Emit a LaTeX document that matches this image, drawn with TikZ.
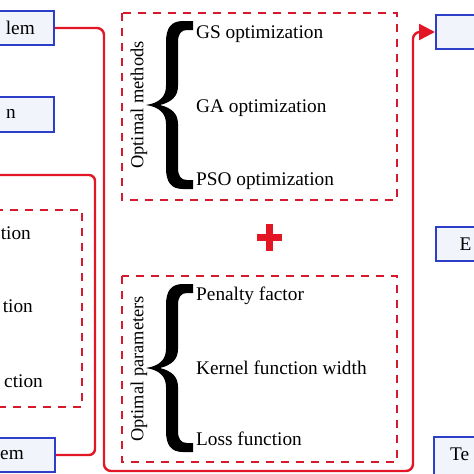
\documentclass[tikz,border=0pt]{standalone}
\usepackage{fontspec}
\setmainfont{Liberation Serif}
\usetikzlibrary{arrows.meta}

\definecolor{boxblue}{RGB}{45,62,200}
\definecolor{boxfill}{RGB}{242,244,252}
\definecolor{loopred}{RGB}{226,22,36}
\definecolor{dashred}{RGB}{214,26,46}

\tikzset{
  bluebox/.style={draw=boxblue, fill=boxfill, line width=2pt},
  redline/.style={draw=loopred, line width=2.4pt},
  dashbox/.style={draw=dashred, line width=2.6pt, dash pattern=on 8pt off 7pt},
  item/.style={anchor=west, inner sep=0pt, font=\fontsize{19.3}{23}\selectfont},
  sidelabel/.style={rotate=90, inner sep=0pt, font=\fontsize{18.4}{22}\selectfont},
  cut/.style={anchor=east, inner sep=0pt, font=\fontsize{19.3}{23}\selectfont},
  optbrace/.pic={
    \fill (193,-84) -- (183,-84) .. controls (171,-84) and (166,-77) .. (166,-63)
      -- (166,-19) .. controls (166,-8) and (159,-2) .. (146,0)
      .. controls (159,2) and (166,8) .. (166,19)
      -- (166,63) .. controls (166,77) and (171,84) .. (183,84) -- (193,84)
      -- (193,75) -- (187,75) .. controls (181,75) and (178,71) .. (178,63)
      -- (178,19) .. controls (178,9) and (172,3) .. (160,0)
      .. controls (172,-3) and (178,-9) .. (178,-19)
      -- (178,-63) .. controls (178,-71) and (181,-75) .. (187,-75)
      -- (193,-75) -- cycle;
  }
}

\begin{document}
\begin{tikzpicture}[x=1pt, y=-1pt]
  \useasboundingbox (0,0) rectangle (474,474);

  % left column
  \node [bluebox, minimum width=94pt, minimum height=34pt] (leftA) at (7,28) {};
  \node [bluebox, minimum width=94pt, minimum height=35pt] (leftB) at (7,114.5) {};
  \node [bluebox, minimum width=95pt, minimum height=34pt] (leftC) at (7.5,455) {};
  \node [cut] (leftAtext) at (35,28) {lem};
  \node [cut] (leftBtext) at (16,114) {n};
  \node [cut] (leftCtext) at (24,455) {em};

  \draw [dashbox] (-20,210) -- (82,210) -- (82,407) -- (-20,407);
  \node [cut] (feat1) at (31,233) {tion};
  \node [cut] (feat2) at (33,306) {tion};
  \node [cut] (feat3) at (43,381) {ction};

  % right column
  \node [bluebox, minimum width=90pt, minimum height=34pt] (rightA) at (481,32) {};
  \node [bluebox, minimum width=90pt, minimum height=34pt] (rightB) at (481,244) {};
  \node [bluebox, minimum width=90pt, minimum height=40pt] (rightC) at (479,457) {};
  \node [anchor=west, inner sep=0pt, font=\fontsize{19.3}{23}\selectfont] (rightBtext) at (459.5,244) {E};
  \node [anchor=west, inner sep=0pt, font=\fontsize{19.3}{23}\selectfont] (rightCtext) at (450,454) {Te};

  % optimal methods
  \draw [dashbox] (122,13) rectangle (397,200);
  \node [sidelabel] (methods) at (139,105) {Optimal methods};
  \pic at (0,105) {optbrace};
  \node [item] (gs) at (196,34) {GS optimization};
  \node [item] (ga) at (196,108) {GA optimization};
  \node [item] (pso) at (196,181) {PSO optimization};

  % plus
  \fill [loopred] (256.5,234) rectangle (282,240.5);
  \fill [loopred] (266,223.5) rectangle (272.5,250.5);

  % optimal parameters
  \draw [dashbox] (122,276) rectangle (397,462);
  \node [sidelabel] (params) at (139,369) {Optimal parameters};
  \pic at (0,368) {optbrace};
  \node [item] (penalty) at (196,296) {Penalty factor};
  \node [item] (kernel) at (196,368) {Kernel function width};
  \node [item] (loss) at (196,439) {Loss function};

  % connectors
  \coordinate (loopbl) at (104,471);
  \coordinate (loopbr) at (413,471);
  \coordinate (leftcorner) at (95,175);
  \coordinate (leftend) at (-10,175);
  \draw [redline, rounded corners=7pt, -{Triangle[length=16pt, width=16pt]}]
    (leftA.east) -| (loopbl) -- (loopbr) |- (rightA.west);
  \draw [redline, rounded corners=6pt] (leftC.east) -| (leftcorner) -- (leftend);
\end{tikzpicture}
\end{document}
